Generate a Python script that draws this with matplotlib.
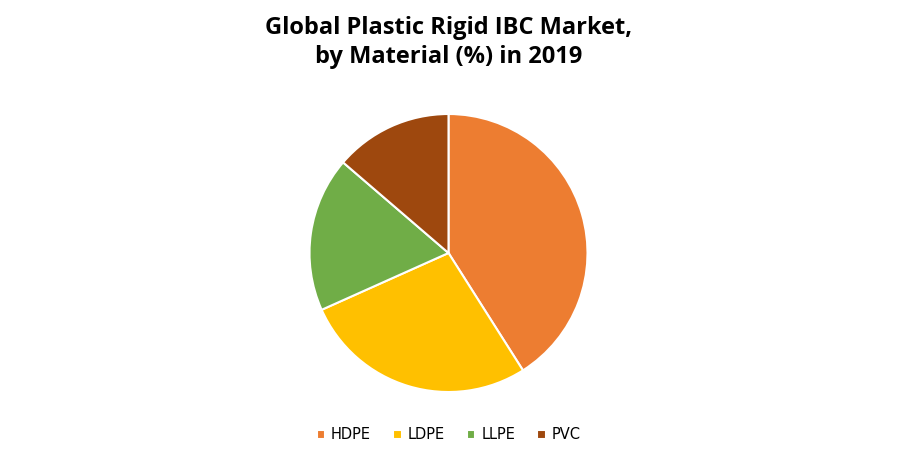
import matplotlib
matplotlib.use("Agg")
import matplotlib.pyplot as plt

categories = ["HDPE", "LDPE", "LLPE", "PVC"]
values = [41, 27.3, 18, 13.7]
colors = ["#ED7D31", "#FFC000", "#70AD47", "#9E480E"]

fig = plt.figure(figsize=(8.97, 4.65), dpi=100)
ax = fig.add_axes([0.5 - 139/897, (465-392)/465, 278/897, 278/465])
wedges, _ = ax.pie(values, colors=colors, startangle=90, counterclock=False,
                   wedgeprops=dict(edgecolor="white", linewidth=1.5))
ax.set_aspect("equal")
ax.set_xlim(-1, 1)
ax.set_ylim(-1, 1)
fig.text(0.5, 0.965, "Global Plastic Rigid IBC Market,\nby Material (%) in 2019",
         ha="center", va="top", fontsize=17, fontweight="bold",
         family="Open Sans", linespacing=1.25)
fig.legend(wedges, categories, loc="center", bbox_to_anchor=(0.5, 0.065), ncol=4,
           frameon=False, fontsize=10.5, handlelength=0.6, handleheight=0.6,
           columnspacing=1.5, handletextpad=0.4)
fig.savefig("out.png", dpi=100)
